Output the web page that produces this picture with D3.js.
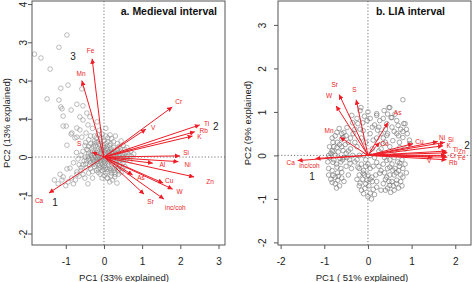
<!DOCTYPE html>
<html>
<head>
<meta charset="utf-8">
<script src="https://cdn.jsdelivr.net/npm/d3@7"></script>
<style>
  html, body { margin: 0; padding: 0; background: #fff; }
  svg { display: block; font-family: "Liberation Sans", Arial, sans-serif; }
</style>
</head>
<body>
<div id="chart"></div>
<script>
// ---- data ----
const titles = ['a. Medieval interval', 'b. LIA interval'];
const xTitles = ['PC1  (33% explained)', 'PC1 ( 51% explained)'];
const yTitles = ['PC2  (13% explained)', 'PC2 (9% explained)'];
const xTicksA = [-1, 0, 1, 2, 3];
const yTicksA = [-2, -1, 0, 1, 2, 3, 4];
const xTicksB = [-2, -1, 0, 1, 2];
const yTicksB = [-2, -1, 0, 1, 2, 3];

// loadings: name, tip x, tip y, label x, label y
const loadingsA = [
  ['Fe', -0.31, 2.57, -0.35, 2.77],
  ['Mn', -0.58, 2.0, -0.60, 2.18],
  ['Cr', 1.79, 1.31, 1.96, 1.45],
  ['V', 1.1, 0.73, 1.29, 0.77],
  ['Ti', 2.51, 0.84, 2.69, 0.88],
  ['Rb', 2.38, 0.66, 2.61, 0.69],
  ['K', 2.32, 0.55, 2.50, 0.52],
  ['S', -0.31, 0.13, -0.65, 0.34],
  ['Si', 1.99, 0.03, 2.15, 0.10],
  ['Ni', 1.95, -0.12, 2.19, -0.20],
  ['Al', 1.28, -0.16, 1.53, -0.19],
  ['Zn', 2.36, -0.52, 2.78, -0.64],
  ['Cu', 1.55, -0.68, 1.71, -0.63],
  ['W', 1.8, -0.84, 1.98, -0.90],
  ['As', 0.75, -0.47, 0.97, -0.55],
  ['Sr', 1.05, -0.97, 1.22, -1.16],
  ['inc/coh', 1.57, -1.1, 1.87, -1.32],
  ['Ca', -1.44, -0.94, -1.70, -1.13]
];
const loadingsB = [
  ['Sr', -0.66, 1.40, -0.76, 1.63],
  ['W', -0.73, 1.14, -0.89, 1.37],
  ['S', -0.27, 1.28, -0.31, 1.51],
  ['As', 0.46, 0.76, 0.68, 0.97],
  ['Mn', -0.64, 0.42, -0.89, 0.56],
  ['Co', 0.27, 0.30, 0.38, 0.26],
  ['Cu', 1.03, 0.27, 1.18, 0.31],
  ['Ni', 1.60, 0.32, 1.70, 0.40],
  ['Si', 1.76, 0.30, 1.90, 0.36],
  ['K', 1.72, 0.22, 1.85, 0.23],
  ['Ti', 1.80, 0.10, 2.0, 0.14],
  ['Zn', 1.82, 0.06, 2.15, 0.09],
  ['Cr', 1.78, 0.0, 1.95, 0.0],
  ['Fe', 1.82, -0.04, 2.15, -0.05],
  ['Rb', 1.80, -0.10, 1.95, -0.16],
  ['V', 1.48, -0.04, 1.40, -0.13],
  ['Ca', -1.61, -0.12, -1.77, -0.16],
  ['inc/coh', -1.2, -0.07, -1.34, -0.23]
];
const groupsA = [['3', -0.81, 2.64], ['2', 2.93, 0.79], ['1', -1.28, -1.18]];
const groupsB = [['1', -1.28, -0.48], ['2', 2.27, 0.23]];

// sample scores
const scoresA = [
  [-0.97,3.19],[-1.18,2.87],[-1.82,2.69],[-1.65,2.59],[-1.41,2.30],[-1.13,1.80],[-0.94,1.88],[-0.58,1.78],
  [-1.49,1.52],[-1.18,1.49],[-1.13,1.31],[-1.10,1.26],[-0.86,1.23],[-0.71,1.38],[-0.55,1.34],[-1.07,1.07],
  [-0.63,1.05],[-1.07,0.81],[-0.99,0.81],[-0.84,0.63],[-0.71,0.76],[-0.55,0.97],[-0.42,0.84],[-0.47,0.63],
  [-0.37,1.05],[-0.58,0.52],[-0.86,0.60],[-0.71,0.52],[-0.45,1.15],[-0.18,0.92],[-0.76,0.50],[-0.97,0.31],
  [-0.63,0.71],[-0.30,0.75],[-0.25,0.55],[-0.40,0.45],
  [-0.35,0.35],[-0.28,0.28],[-0.2,0.38],[-0.15,0.22],[-0.1,0.3],[-0.05,0.18],[0.0,0.25],[0.05,0.35],
  [0.1,0.2],[0.15,0.3],[0.2,0.15],[0.25,0.25],[0.3,0.1],[0.35,0.2],[0.4,0.05],[0.45,0.15],[0.5,0.02],
  [0.55,0.1],[0.6,-0.05],[0.65,0.05],
  [-0.45,0.2],[-0.4,0.1],[-0.35,0.05],[-0.3,0.15],[-0.25,0.05],[-0.2,0.12],[-0.15,0.02],[-0.1,0.08],
  [-0.05,-0.02],[0.0,0.05],[0.05,0.1],[0.1,0.0],[0.15,0.08],[0.2,-0.02],[0.25,0.05],[0.3,-0.08],
  [0.35,-0.02],[0.4,-0.1],[0.45,-0.05],[0.5,-0.15],
  [-0.5,0.0],[-0.45,-0.1],[-0.4,-0.05],[-0.35,-0.15],[-0.3,-0.05],[-0.25,-0.12],[-0.2,-0.08],[-0.15,-0.18],
  [-0.1,-0.1],[-0.05,-0.2],[0.0,-0.12],[0.05,-0.05],[0.1,-0.15],[0.15,-0.1],[0.2,-0.2],[0.25,-0.12],
  [0.3,-0.22],[0.35,-0.3],[0.4,-0.25],[0.55,-0.25],
  [-0.55,-0.2],[-0.45,-0.28],[-0.35,-0.3],[-0.25,-0.25],[-0.15,-0.32],[-0.05,-0.35],[0.05,-0.28],[0.1,-0.38],
  [0.15,-0.3],[0.2,-0.42],[0.25,-0.35],[0.3,-0.45],[0.1,-0.55],[0.0,-0.48],[-0.1,-0.45],[0.22,-0.6],
  [0.34,-0.68],[0.08,-0.55],[0.45,-0.4],[0.68,-0.1],
  [-0.1,0.45],[0.0,0.42],[0.1,0.5],[0.16,0.58],[0.25,0.4],[0.35,0.35],[0.5,0.3],[-0.05,0.6],[-0.2,0.5],
  [0.3,0.55],[0.7,0.15],[0.6,0.25],[0.45,0.42],[-0.12,0.7],[0.05,0.75],
  [-0.02,0.12],[0.08,-0.08],[-0.08,0.02],[0.12,0.12],[-0.18,-0.02],[0.02,-0.22],[0.18,0.0],[-0.12,0.15],
  [-0.32,0.22],[-0.22,0.3],[-0.12,0.35],[-0.02,0.3],[0.08,0.28],[0.18,0.22],[0.28,0.18],[0.38,0.12],
  [0.48,0.08],[0.58,0.02],[-0.42,0.02],[-0.32,-0.02],[-0.22,0.0],[-0.12,-0.05],[0.02,0.0],[0.12,0.05],
  [0.22,0.08],[0.32,0.02],[0.42,-0.02],[0.52,-0.08],[-0.38,-0.22],[-0.28,-0.18],[-0.18,-0.12],[-0.08,-0.15],
  [0.02,-0.08],[0.12,-0.22],[0.22,-0.28],[0.32,-0.15],[0.42,-0.18],[0.48,-0.3],[-0.3,-0.38],[-0.2,-0.35],
  [-0.1,-0.28],[0.0,-0.32],[0.18,-0.5],[0.28,-0.52],[0.38,-0.45],[-0.05,-0.55],[0.15,-0.65],[0.05,-0.42],
  [-0.5,0.3],[-0.55,0.15],[-0.6,0.05],[-0.52,-0.1],[-0.48,0.38],[-0.35,0.55],[-0.25,0.42],[-0.15,0.58],
  [0.05,0.55],[0.2,0.48],[0.4,0.28],[0.55,0.2],[0.62,0.12],[0.72,0.02],[0.78,0.08],[-0.68,-0.05],
  [-0.72,0.12],[-0.6,-0.28],[-0.4,-0.42],[-0.3,-0.55],
  [-0.27,0.1],[-0.17,0.17],[-0.07,0.1],[0.03,0.17],[0.13,0.14],[0.23,0.12],[0.33,0.08],[-0.27,-0.08],
  [-0.17,-0.05],[-0.07,-0.07],[0.03,-0.15],[0.13,-0.05],[0.23,-0.08],[0.33,-0.1],[-0.22,-0.2],[-0.12,-0.22],
  [-0.02,-0.27],[0.08,-0.32],[0.18,-0.35],[0.28,-0.3],[-0.32,0.05],[-0.37,-0.08],[-0.07,0.22],[0.07,0.22],
  [0.18,0.35],[-0.25,0.35],[-0.4,0.28],[0.28,-0.4],[0.38,-0.35],[-0.15,-0.4],[0.43,0.22],[0.52,-0.02],
  [-0.48,-0.18],[-0.42,0.18],[0.1,0.4],[-0.08,0.5],
  [-1.07,-0.52],[-0.89,-0.29],[-0.71,-0.39],[-0.94,-0.65],[-1.3,-0.6],[-1.2,-0.7],[-1.1,-0.6],[-0.85,-0.55],
  [-0.75,-0.6],[-0.65,-0.5],[-0.97,-0.31],[-0.71,-0.45],[-0.42,-0.7],[-0.6,-0.35],[-0.55,-0.45],[-1.0,-0.75],
  [-0.8,-0.7],[-0.5,-0.55],[-0.65,-0.2],[-0.8,-0.15],[-1.15,-0.45]
];
const scoresB = [
  [0.48,1.10],[0.2,0.96],[0.27,0.8],[0.43,0.73],[0.55,0.87],[0.69,0.69],[0.85,0.73],[0.66,0.5],[0.8,0.41],
  [0.57,0.34],[0.43,0.46],[0.34,0.27],[0.73,0.18],[0.96,0.27],[-0.02,0.8],[-0.11,0.57],[-0.23,0.73],
  [-0.34,0.5],[-0.48,0.64],[-0.57,0.41],[-0.71,0.53],[-0.8,0.3],[-0.82,0.11],[-0.71,0.18],[-0.57,0.11],
  [-0.64,-0.07],[-0.8,-0.16],[-0.71,-0.27],[-0.6,-0.39],[-0.8,-0.46],[-0.69,-0.57],[-0.41,-0.18],
  [-0.23,-0.27],[-0.11,-0.41],[-0.18,-0.64],[-0.02,-0.57],[0.09,-0.5],[-0.07,-0.76],[0.05,-0.87],
  [0.2,-0.73],[0.27,-0.41],[0.43,-0.5],[0.5,-0.27],[0.57,-0.34],[0.5,-0.69],[0.66,-0.57],[0.73,-0.18],
  [0.43,-0.11],[0.2,-0.16],
  [-0.16,1.1],[-0.18,1.03],[-0.37,0.92],[0.2,0.92],[0.37,1.03],[0.5,1.1],[0.8,1.28],[0.53,0.87],
  [0.66,0.8],[0.82,0.73],[-0.66,0.62],[-0.55,0.53],
  [-0.85,0.05],[-0.75,0.0],[-0.68,0.08],[-0.6,0.2],[-0.52,0.25],[-0.88,-0.05],[-0.78,-0.1],[-0.62,-0.15],
  [-0.55,-0.05],[-0.5,0.05],[-0.9,-0.3],[-0.82,-0.35],[-0.7,-0.4],[-0.62,-0.3],[-0.5,-0.25],[-0.85,-0.55],
  [-0.75,-0.65],[-0.65,-0.7],[-0.55,-0.6],[-0.45,-0.45],[-0.78,0.2],[-0.7,0.3],[-0.6,0.38],[-0.45,0.3],
  [-0.4,0.15],[-0.35,0.0],[-0.42,-0.1],[-0.3,-0.15],[-0.82,0.4],[-0.5,0.45],
  [-0.1,0.0],[-0.05,-0.1],[0.0,-0.2],[-0.15,-0.2],[0.05,-0.3],[-0.1,-0.35],[-0.2,-0.45],[0.0,-0.45],
  [0.1,-0.6],[-0.12,-0.55],[-0.05,-0.65],[0.12,-0.78],[-0.15,-0.8],[0.0,-0.95],[0.08,-1.0],[-0.05,0.3],
  [-0.15,0.4],[0.05,0.5],[-0.25,0.2],[0.1,0.15],[-0.3,0.6],[0.1,0.65],[-0.08,0.9],[0.0,1.0],
  [0.35,-0.2],[0.45,-0.3],[0.55,-0.2],[0.62,-0.3],[0.7,-0.35],[0.75,-0.45],[0.6,-0.45],[0.5,-0.45],
  [0.4,-0.55],[0.55,-0.6],[0.65,-0.65],[0.75,-0.6],[0.8,-0.3],[0.45,-0.75],[0.6,-0.8],[0.35,-0.65],
  [0.3,-0.35],[0.68,-0.15],[0.78,-0.1],[0.85,-0.2],
  [0.3,0.5],[0.4,0.6],[0.6,0.55],[0.7,0.45],[0.9,0.5],[0.85,0.15],[0.6,0.1],[0.5,0.2],[0.2,0.4],
  [0.15,0.7],[0.35,0.85],[0.62,0.95],[0.4,0.3],[0.95,0.35],
  [-0.88,0.2],[-0.9,0.0],[-0.92,-0.15],[-0.8,0.08],[-0.72,-0.2],[-0.65,0.25],[-0.58,-0.1],[-0.48,-0.05],
  [-0.45,0.1],[-0.38,-0.3],[-0.75,-0.5],[-0.68,-0.48],[-0.6,-0.52],[-0.9,-0.45],[-0.82,-0.62],[-0.72,-0.75],
  [-0.6,0.5],[-0.75,0.45],[-0.4,0.4],[-0.3,0.3],
  [-0.2,0.0],[-0.25,-0.1],[0.05,0.0],[0.15,-0.05],[0.12,-0.25],[-0.05,-0.25],[-0.2,-0.3],[0.05,-0.55],
  [-0.08,-0.45],[0.18,-0.45],[0.2,-0.6],[-0.2,-0.7],[-0.1,-0.88],[0.15,-0.9],[0.02,-0.7],[-0.25,-0.55],
  [0.25,-0.25],[0.25,0.1],[0.12,0.35],[-0.18,0.6],[-0.25,0.85],[-0.12,0.75],[0.05,0.85],[-0.35,0.75],
  [0.22,0.58],
  [0.38,-0.4],[0.48,-0.6],[0.58,-0.7],[0.7,-0.75],[0.8,-0.5],[0.72,-0.25],[0.6,-0.05],[0.5,-0.1],
  [0.38,-0.05],[0.65,-0.4],[0.52,-0.85],[0.4,-0.8],[0.78,-0.7],[0.88,-0.4],[0.3,-0.8],
  [0.35,0.4],[0.45,0.5],[0.55,0.65],[0.75,0.6],[0.8,0.55],[0.25,0.65],[0.45,0.95],[0.72,0.3],
  [0.88,0.6],[0.3,0.15]
];

// ---- drawing ----
const W = 474, H = 282;
const RED = '#ee1c25';

const svg = d3.select('#chart').append('svg')
  .attr('width', W)
  .attr('height', H);

svg.append('defs').append('marker')
  .attr('id', 'head')
  .attr('viewBox', '0 -3 6 6')
  .attr('refX', 6)
  .attr('refY', 0)
  .attr('markerWidth', 5)
  .attr('markerHeight', 5)
  .attr('orient', 'auto')
  .append('path')
  .attr('d', 'M0,-3L6,0L0,3Z')
  .attr('fill', RED);

const panels = [
  {
    left: 32, right: 225, top: 1, bottom: 245,
    xDom: [-1.885, 3.17], yDom: [-2.30, 4.08],
    xTicks: xTicksA, yTicks: yTicksA,
    loadings: loadingsA, groups: groupsA, scores: scoresA, pointColor: '#8f8f8f',
    title: titles[0], titleX: 217, xTitle: xTitles[0], xTitleX: 124,
    yTitle: yTitles[0], yTitleX: 10, yLabOff: 5
  },
  {
    left: 278, right: 471, top: 1, bottom: 245,
    xDom: [-2.06, 2.36], yDom: [-2.06, 3.55],
    xTicks: xTicksB, yTicks: yTicksB,
    loadings: loadingsB, groups: groupsB, scores: scoresB, pointColor: '#6e6e6e',
    title: titles[1], titleX: 445, xTitle: xTitles[1], xTitleX: 362,
    yTitle: yTitles[1], yTitleX: 251, yLabOff: 12
  }
];

panels.forEach((p, i) => {
  const x = d3.scaleLinear().domain(p.xDom).range([p.left, p.right]);
  const y = d3.scaleLinear().domain(p.yDom).range([p.bottom, p.top]);
  const g = svg.append('g');

  g.append('clipPath').attr('id', 'clip' + i)
    .append('rect')
    .attr('x', p.left).attr('y', p.top)
    .attr('width', p.right - p.left).attr('height', p.bottom - p.top);

  const plot = g.append('g').attr('clip-path', `url(#clip${i})`);

  // reference lines through the origin
  plot.append('line')
    .attr('x1', p.left).attr('x2', p.right)
    .attr('y1', y(0)).attr('y2', y(0))
    .attr('stroke', '#777').attr('stroke-width', 1)
    .attr('stroke-dasharray', '1.2,2');
  plot.append('line')
    .attr('x1', x(0)).attr('x2', x(0))
    .attr('y1', p.top).attr('y2', p.bottom)
    .attr('stroke', '#777').attr('stroke-width', 1)
    .attr('stroke-dasharray', '1.2,2');

  // sample scores
  plot.append('g')
    .selectAll('circle')
    .data(p.scores)
    .join('circle')
    .attr('cx', d => x(d[0]))
    .attr('cy', d => y(d[1]))
    .attr('r', 2.3)
    .attr('fill', 'none')
    .attr('stroke', p.pointColor)
    .attr('stroke-width', 0.6);

  // loading arrows
  plot.append('g')
    .selectAll('line')
    .data(p.loadings)
    .join('line')
    .attr('x1', x(0)).attr('y1', y(0))
    .attr('x2', d => x(d[1]))
    .attr('y2', d => y(d[2]))
    .attr('stroke', RED)
    .attr('stroke-width', 1)
    .attr('marker-end', 'url(#head)');

  plot.append('g')
    .selectAll('text')
    .data(p.loadings)
    .join('text')
    .attr('x', d => x(d[3]))
    .attr('y', d => y(d[4]))
    .attr('dy', '0.35em')
    .attr('text-anchor', 'middle')
    .attr('font-size', 6.5)
    .attr('fill', RED)
    .text(d => d[0]);

  plot.append('g')
    .selectAll('text')
    .data(p.groups)
    .join('text')
    .attr('x', d => x(d[1]))
    .attr('y', d => y(d[2]))
    .attr('dy', '0.35em')
    .attr('text-anchor', 'middle')
    .attr('font-size', 10)
    .attr('fill', '#222')
    .text(d => d[0]);

  // box
  g.append('rect')
    .attr('x', p.left).attr('y', p.top)
    .attr('width', p.right - p.left).attr('height', p.bottom - p.top)
    .attr('fill', 'none')
    .attr('stroke', '#555')
    .attr('stroke-width', 1);

  // x axis
  const xAxis = g.append('g')
    .attr('transform', `translate(0,${p.bottom})`)
    .call(d3.axisBottom(x).tickValues(p.xTicks).tickSize(4).tickPadding(9)
      .tickFormat(d => String(d)));
  xAxis.select('.domain').remove();
  xAxis.selectAll('line').attr('stroke', '#555');
  xAxis.selectAll('text').attr('font-size', 10).attr('fill', '#222')
    .attr('font-family', '"Liberation Sans", Arial, sans-serif');

  // y axis, labels rotated like R
  const yAxis = g.append('g')
    .attr('transform', `translate(${p.left},0)`)
    .call(d3.axisLeft(y).tickValues(p.yTicks).tickSize(4)
      .tickFormat(d => String(d)));
  yAxis.select('.domain').remove();
  yAxis.selectAll('line').attr('stroke', '#555');
  yAxis.selectAll('text')
    .attr('font-size', 10).attr('fill', '#222')
    .attr('font-family', '"Liberation Sans", Arial, sans-serif')
    .attr('transform', 'rotate(-90)')
    .attr('x', 0)
    .attr('y', -p.yLabOff)
    .attr('dy', 0)
    .attr('text-anchor', 'middle');

  // titles
  g.append('text')
    .attr('x', p.titleX).attr('y', 15)
    .attr('text-anchor', 'end')
    .attr('font-size', 10.5)
    .attr('font-weight', 'bold')
    .attr('fill', '#111')
    .text(p.title);

  g.append('text')
    .attr('x', p.xTitleX).attr('y', 281)
    .attr('text-anchor', 'middle')
    .attr('font-size', 9.5)
    .attr('fill', '#222')
    .text(p.xTitle);

  g.append('text')
    .attr('transform', `translate(${p.yTitleX},${(p.top + p.bottom) / 2}) rotate(-90)`)
    .attr('text-anchor', 'middle')
    .attr('font-size', 9.5)
    .attr('fill', '#222')
    .text(p.yTitle);
});
</script>
</body>
</html>
